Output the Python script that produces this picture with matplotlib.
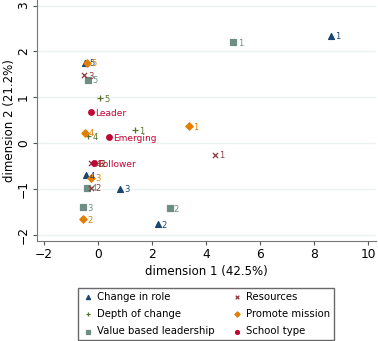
import matplotlib
matplotlib.use("Agg")
import matplotlib.pyplot as plt

# coordinates (dimension 1, dimension 2)
role_x = [8.62, 2.21, 0.81, -0.44, -0.48]
role_y = [2.34, -1.77, -1.00, -0.70, 1.75]
role_lab = ["1", "2", "3", "4", "5"]

res_x = [4.32, -0.25, -0.52, -0.25]
res_y = [-0.26, -0.98, 1.48, -0.44]
res_lab = ["1", "2", "3", "4"]

depth_x = [1.37, -0.05, -0.15, -0.35, 0.07]
depth_y = [0.28, -0.44, -0.44, 0.15, 0.98]
depth_lab = ["1", "2", "3", "4", "5"]

prom_x = [3.36, -0.55, -0.26, -0.48, -0.40]
prom_y = [0.37, -1.66, -0.76, 0.22, 1.75]
prom_lab = ["1", "2", "3", "4", "5"]

val_x = [5.02, 2.66, -0.55, -0.40, -0.37]
val_y = [2.20, -1.42, -1.40, -0.98, 1.38]
val_lab = ["1", "2", "3", "4", "5"]

school_x = [-0.26, 0.41, -0.15]
school_y = [0.67, 0.13, -0.44]
school_lab = ["Leader", "Emerging", "Follower"]

series = [
    ("Change in role", role_x, role_y, role_lab, "^", "#1a476f", 18),
    ("Depth of change", depth_x, depth_y, depth_lab, "+", "#55752f", 18),
    ("Value based leadership", val_x, val_y, val_lab, "s", "#6e8e84", 14),
    ("Resources", res_x, res_y, res_lab, "x", "#90353b", 14),
    ("Promote mission", prom_x, prom_y, prom_lab, "D", "#e37e00", 14),
    ("School type", school_x, school_y, school_lab, "o", "#c10534", 16),
]

fig = plt.figure(figsize=(3.78, 3.41), dpi=100)
ax = fig.add_axes([0.098, 0.293, 0.897, 0.707])

for name, xs, ys, labs, mk, col, sz in series:
    ax.scatter(xs, ys, marker=mk, color=col, s=sz, linewidths=0.9, label=name, zorder=3)
    for x, y, t in zip(xs, ys, labs):
        ax.annotate(t, (x, y), xytext=(3, -2.5), textcoords="offset points",
                    color=col, fontsize=6.5 if len(t) > 1 else 6, zorder=4)

ax.set_xlim(-2.25, 10.3)
ax.set_ylim(-2.14, 3.12)
ax.set_xticks([-2, 0, 2, 4, 6, 8, 10])
ax.set_yticks([-2, -1, 0, 1, 2, 3])
ax.yaxis.grid(True, color="#eaf2f3", linewidth=1)
ax.set_axisbelow(True)
for s in ["top", "right"]:
    ax.spines[s].set_visible(False)
for s in ["left", "bottom"]:
    ax.spines[s].set_color("#777777")
ax.tick_params(colors="#555555", labelcolor="black", labelsize=8.8, length=3, pad=2)
plt.setp(ax.get_yticklabels(), rotation=90, va="center")
ax.set_xlabel("dimension 1 (42.5%)", fontsize=8.5, labelpad=3)
ax.set_ylabel("dimension 2 (21.2%)", fontsize=8.5, labelpad=1)

fig.legend(loc="lower center", bbox_to_anchor=(0.545, 0.003), ncol=2, fontsize=7.3,
           frameon=True, fancybox=False, edgecolor="#444444", handletextpad=0.3,
           columnspacing=1.6, labelspacing=0.72, borderpad=0.35, markerscale=0.7,
           handlelength=1.2, borderaxespad=0)

fig.savefig("out.png", dpi=100, facecolor="white")
